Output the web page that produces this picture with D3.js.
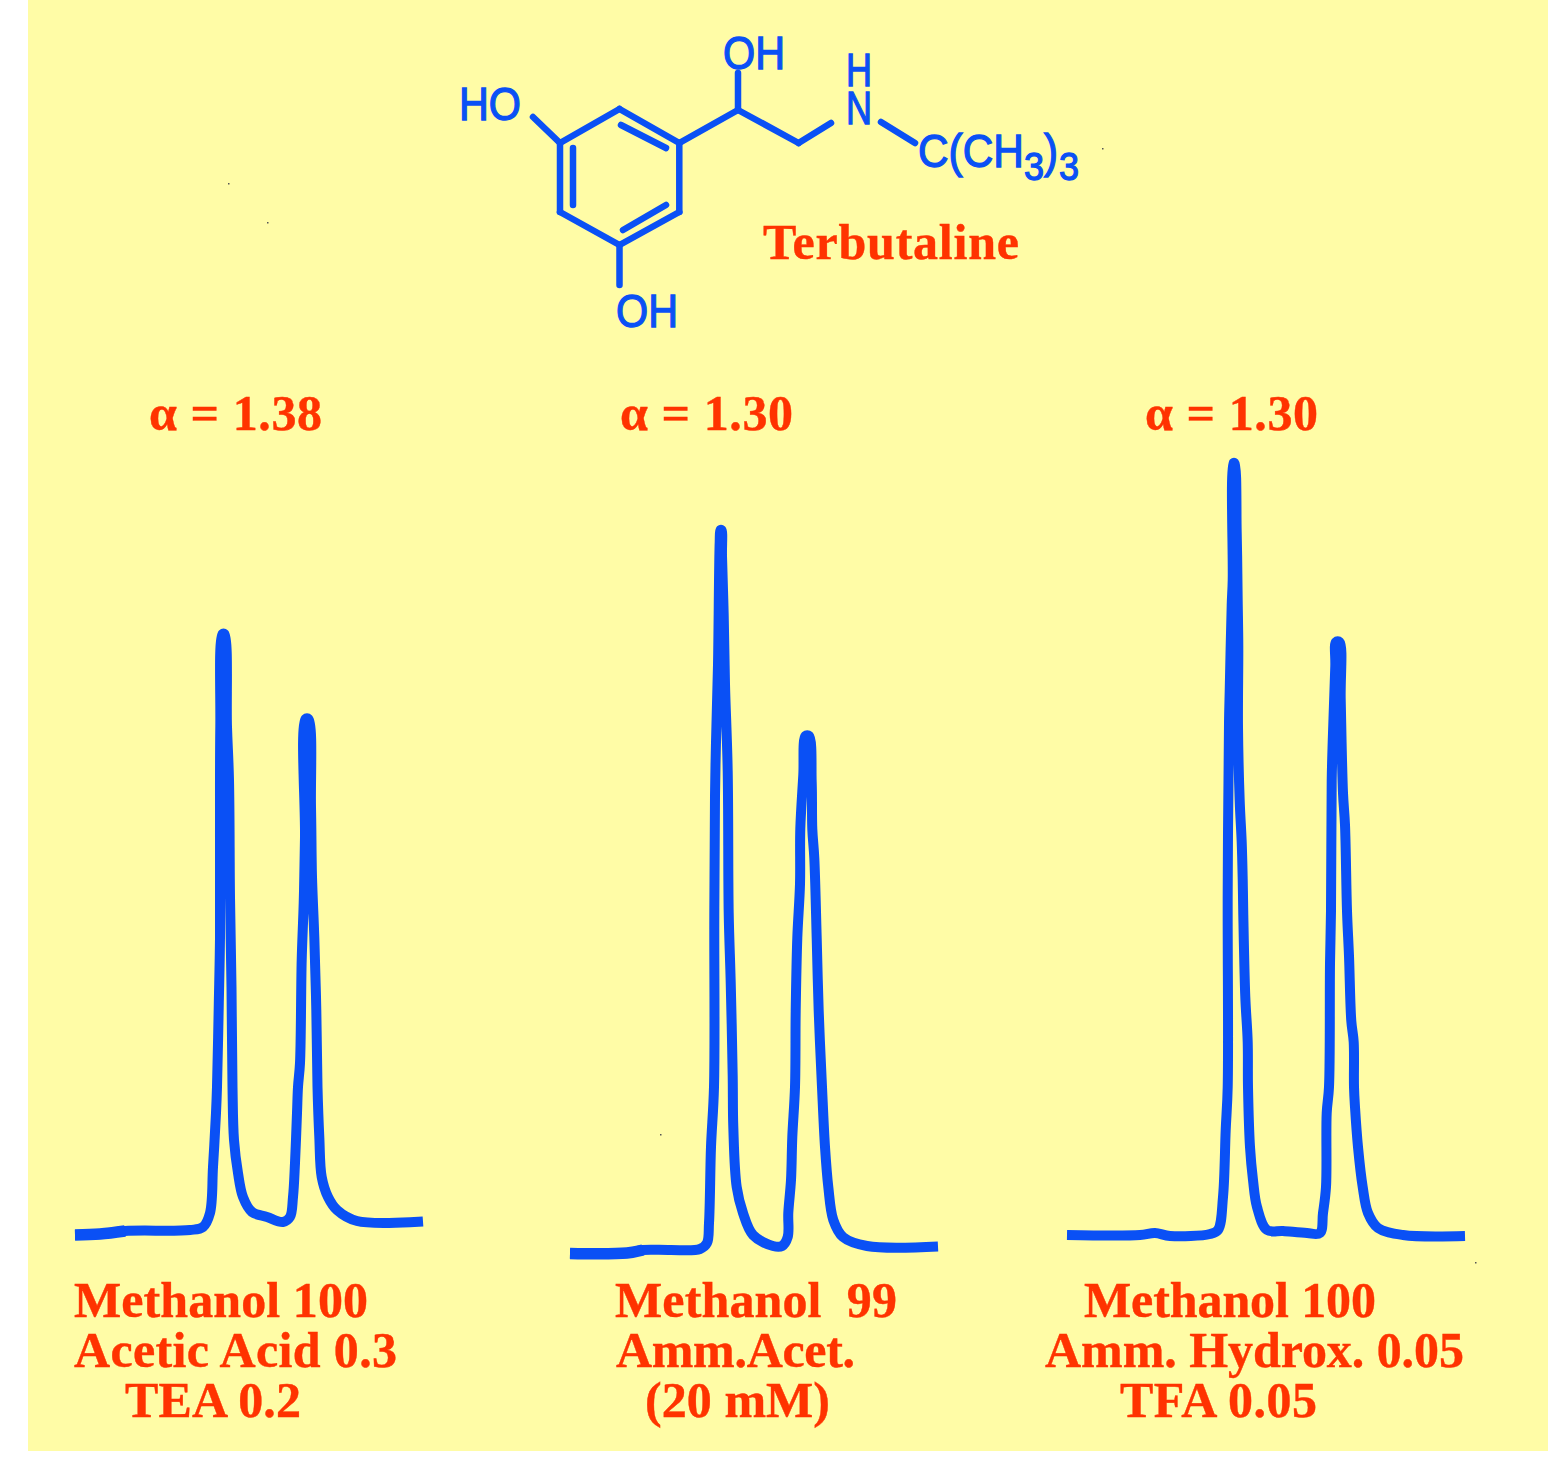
<!DOCTYPE html>
<html><head><meta charset="utf-8">
<style>html,body{margin:0;padding:0;background:#fff}svg{display:block}
.serif{font-family:"Liberation Serif",serif;font-weight:bold;fill:#ff3300;stroke:#ff3300;stroke-width:0.4}
.sans{font-family:"Liberation Sans",sans-serif;fill:#0a50f5;stroke:#0a50f5;stroke-width:1.3}</style>
<script src="https://cdn.jsdelivr.net/npm/d3@7"></script></head><body>
<script>
const W=1566,H=1468;
// chromatogram traces: time (arbitrary units) and detector response (arbitrary units)
const time1=[0,25,50,115,128,135,138,141,142,143.8,145,145,145.3,147.5,149.5,152,154,155,156.5,157.5,159,163,168,177,192,208,215,218,220,222,223,225,226.7,228.7,230,230.5,233.5,236,237,239.3,241.3,242.5,244.3,246.7,253,262,282,348];
const signal1=[25,26,29,30,33,47,93,147,173,257,323,423,533,626,626,533,480,363,273,173,120,87,63,48,43,38,43,63,97,147,173,197,300,357,423,541,541,453,383,323,250,173,123,83,63,50,39,38.5];
const time2=[0,57,73,100,130,137,139,141,144,144.3,145,146,148,149.7,150.5,151.5,152,153.7,155,157.7,158.7,160.7,162.7,163.3,166.7,173,183,203,212,217.7,218.3,221,222.3,225,225.7,227.3,230,230.3,233.3,235.5,239,241.7,242.3,244.3,246.7,248.7,252,255,258.3,263.3,273,297,368];
const signal2=[6.5,7,10,10,11,17,37,113,173,344,464,518,595,718,730,730,704,645,576,489,347,278,184,133,73,47,25,14,14,23,47,80,123,173,249,322,376,431,485,524,524,478,431,402,322,249,173,113,73,40,23,14,13.5];
const time3=[0,73,88,103,143,151,156,158.7,160.7,160.7,162,162.7,164.7,165.7,166.5,167.5,169.7,170.7,171.3,171,172.7,174.7,175.7,176.3,178.3,180.7,181,183,186,190,200,216,240,253,256,259,259.7,262,263,264,264.7,265.7,268.3,269,272.5,273.7,276,278,280,282,284.3,286.7,287,288,291,295.7,301,311,336,398];
const signal3=[25,25,27,24,26,30,63,130,173,369,537,569,655,680,797,797,728,659,614,533,459,418,381,345,263,218,173,113,80,53,30,29,27,27,47,73,147,173,296,349,479,518,594,618,618,561,467,435,349,304,239,218,173,153,113,73,47,32,25,24];
// labels
const alphas=["α = 1.38","α = 1.30","α = 1.30"];
const solvents1=["Methanol 100","Acetic Acid 0.3","TEA 0.2"];
const solvents2=["Methanol  99","Amm.Acet.","(20 mM)"];
const solvents3=["Methanol 100","Amm. Hydrox. 0.05","TFA 0.05"];
const compound="Terbutaline";

const BLUE="#0a50f5",RED="#ff3300",BG="#fffca6";
const svg=d3.select("body").append("svg").attr("width",W).attr("height",H);
svg.append("rect").attr("x",28).attr("y",0).attr("width",1520).attr("height",1451).attr("fill",BG);

// ---- traces
const y=d3.scaleLinear().domain([0,800]).range([1260,460]);
const panels=[
 {t:time1,s:signal1,dom:[0,348],rng:[75,423],leadEnd:3},
 {t:time2,s:signal2,dom:[0,368],rng:[570,938],leadEnd:3},
 {t:time3,s:signal3,dom:[0,398],rng:[1067,1465],leadEnd:0}
];
panels.forEach(p=>{
  const x=d3.scaleLinear().domain(p.dom).range(p.rng);
  const pts=p.t.map((v,i)=>[v,p.s[i]]);
  const line=d3.line().x(d=>x(d[0])).y(d=>y(d[1])).curve(d3.curveCatmullRom.alpha(0.5));
  svg.append("path").attr("d",line(pts)).attr("fill","none").attr("stroke",BLUE)
    .attr("stroke-width",10).attr("stroke-linejoin","round");
  if(p.leadEnd){ // thicker pen stroke at the start of the baseline
    svg.append("path").attr("d",line(pts.slice(0,p.leadEnd))).attr("fill","none").attr("stroke",BLUE).attr("stroke-width",11.5);
  }
});

// ---- labels
const lab=(t,xx,yy,fs,len)=>svg.append("text").attr("class","serif").attr("x",xx).attr("y",yy)
  .attr("font-size",fs).style("white-space","pre").attr("textLength",len).attr("lengthAdjust","spacing").text(t);
[149,620,1145].forEach((xx,i)=>lab(alphas[i],xx,430,50,173));
[solvents1,solvents2,solvents3].forEach((rows,i)=>{
  const xs=[[74,74,125],[615,616,645],[1084,1045,1120]][i];
  const lens=[[294,323,176],[282,239,185],[292,419,197]][i];
  rows.forEach((r,j)=>lab(r,xs[j],[1317,1367,1417][j],50,lens[j]));
});
lab(compound,763,259,50,256);

// ---- structure
const bonds=[[[619.5,109],[679.3,143]],[[679.3,143],[679.3,212]],[[679.3,212],[619.5,245]],[[619.5,245],[560,212]],[[560,212],[560,143]],[[560,143],[619.5,109]],
 [[621,125],[666,148]],[[573,148],[573,205]],[[623,230],[666,205]],
 [[533,117],[560,143]],[[619.5,245],[619.5,285]],
 [[679.3,143],[738,110]],[[738,110],[738,73]],[[738,110],[798.6,143]],[[798.6,143],[831,123]],[[881,122],[915,143]]];
svg.append("g").selectAll("line").data(bonds).join("line")
 .attr("x1",d=>d[0][0]).attr("y1",d=>d[0][1]).attr("x2",d=>d[1][0]).attr("y2",d=>d[1][1])
 .attr("stroke",BLUE).attr("stroke-width",6.5).attr("stroke-linecap","round");
const atoms=[["OH",723,69,46,62],["HO",459,120,46,62],["OH",616,327,46,62],["H",846,86,46,26],["N",846,124,46,26],
 ["C(CH",918,167,46,106],["3",1024,180,38,20],[")",1044,167,46,14],["3",1059,180,38,20]];
svg.append("g").selectAll("text").data(atoms).join("text").attr("class","sans")
 .attr("x",d=>d[1]).attr("y",d=>d[2]).attr("font-size",d=>d[3])
 .attr("textLength",d=>d[4]).attr("lengthAdjust","spacingAndGlyphs").text(d=>d[0]);

// ---- small specks present on the scanned slide
const specks=[[228,183],[267,222],[660,1134],[1102,148],[1475,1262]];
svg.append("g").selectAll("rect").data(specks).join("rect")
 .attr("x",d=>d[0]).attr("y",d=>d[1]).attr("width",1.5).attr("height",1.5).attr("fill","#555");
</script></body></html>
